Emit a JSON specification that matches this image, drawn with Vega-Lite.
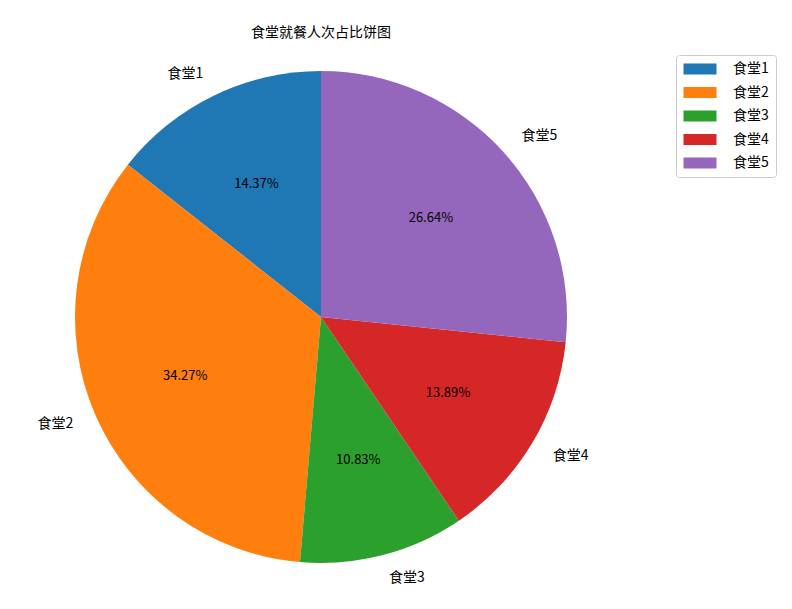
{
  "$schema": "https://vega.github.io/schema/vega-lite/v6.json",
  "autosize": {"type": "none"},
  "width": 642,
  "height": 534,
  "padding": {"top": 50, "left": 0, "right": 150, "bottom": 25},
  "background": "white",
  "title": {
    "text": "食堂就餐人次占比饼图",
    "anchor": "middle",
    "font": "Noto Sans CJK SC",
    "fontSize": 14,
    "fontWeight": "normal",
    "color": "black",
    "offset": 10
  },
  "config": {"view": {"stroke": null}, "font": "Noto Sans CJK SC"},
  "data": {
    "values": [
      {"name": "食堂1", "pct": 14.37, "idx": 1, "label": "14.37%"},
      {"name": "食堂2", "pct": 34.27, "idx": 2, "label": "34.27%"},
      {"name": "食堂3", "pct": 10.83, "idx": 3, "label": "10.83%"},
      {"name": "食堂4", "pct": 13.89, "idx": 4, "label": "13.89%"},
      {"name": "食堂5", "pct": 26.64, "idx": 5, "label": "26.64%"}
    ]
  },
  "encoding": {
    "theta": {"field": "pct", "type": "quantitative", "stack": true},
    "order": {"field": "idx", "type": "quantitative", "sort": "descending"}
  },
  "layer": [
    {
      "mark": {"type": "arc", "outerRadius": 246},
      "encoding": {
        "color": {
          "field": "name",
          "type": "nominal",
          "scale": {
            "domain": ["食堂1", "食堂2", "食堂3", "食堂4", "食堂5"],
            "range": ["#1f77b4", "#ff7f0e", "#2ca02c", "#d62728", "#9467bd"]
          },
          "legend": {
            "title": null,
            "orient": "none",
            "legendX": 676,
            "legendY": 5,
            "symbolType": "M-3,-1 L3,-1 L3,1 L-3,1 Z",
            "symbolSize": 121,
            "symbolStrokeWidth": 0,
            "symbolOffset": 10,
            "labelOffset": 26,
            "labelFont": "Noto Sans CJK SC",
            "labelFontSize": 14,
            "labelColor": "black",
            "rowPadding": 9.5,
            "padding": 7,
            "strokeColor": "#cccccc",
            "fillColor": "white",
            "cornerRadius": 3
          }
        }
      }
    },
    {
      "mark": {"type": "text", "radius": 148, "fontSize": 13, "color": "black", "font": "Noto Sans CJK SC"},
      "encoding": {"text": {"field": "label"}}
    },
    {
      "mark": {"type": "text", "radius": 270, "align": "right", "baseline": "middle", "fontSize": 14, "color": "black", "font": "Noto Sans CJK SC"},
      "encoding": {"text": {"condition": {"test": "datum.idx <= 2", "field": "name"}, "value": ""}}
    },
    {
      "mark": {"type": "text", "radius": 270, "align": "left", "baseline": "middle", "fontSize": 14, "color": "black", "font": "Noto Sans CJK SC"},
      "encoding": {"text": {"condition": {"test": "datum.idx >= 3", "field": "name"}, "value": ""}}
    }
  ]
}
